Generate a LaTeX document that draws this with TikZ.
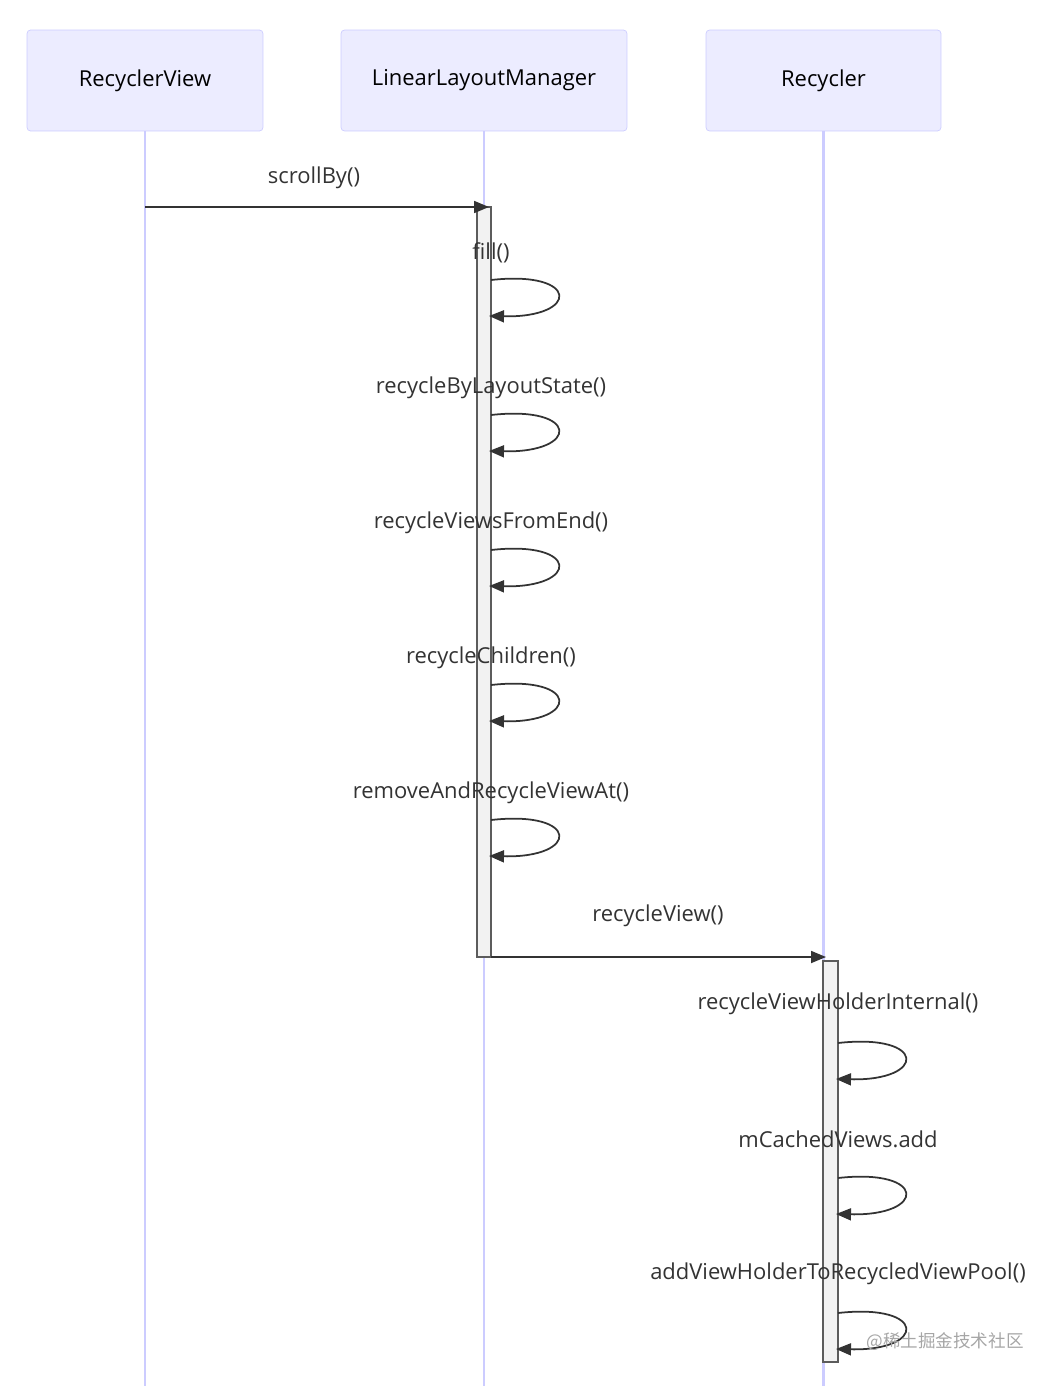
\documentclass[tikz,border=0pt]{standalone}
\usepackage{fontspec}
\setmainfont{Open Sans}
\newfontfamily\cjk{Noto Sans CJK SC}
\usetikzlibrary{positioning,arrows.meta}
\definecolor{actfill}{HTML}{ECECFF}
\definecolor{actdraw}{HTML}{CCCCFF}
\definecolor{msgline}{HTML}{333333}
\begin{document}
\begin{tikzpicture}[
    x=0.02cm, y=-0.02cm,
    actor/.style={draw=actdraw, fill=actfill, rounded corners=2pt, minimum height=2.02cm, font=\fontsize{12.5}{14}\selectfont},
    lifeline/.style={draw=actdraw, line width=1.2pt},
    activation/.style={draw=msgline!80, fill=black!5, line width=0.6pt},
    message/.style={-{Triangle[length=3mm,width=2.4mm]}, msgline, line width=1pt},
    label/.style={font=\fontsize{12.5}{14}\selectfont, text=msgline}
]
\useasboundingbox (0,0) rectangle (1058,1386);

% Actors
\node[actor, minimum width=4.72cm] (rv) at (145,80.5) {RecyclerView};
\node[actor, minimum width=5.72cm] (llm) at (484,80.5) {LinearLayoutManager};
\node[actor, minimum width=4.7cm] (rec) at (823.5,80.5) {Recycler};

% Lifelines
\draw[lifeline] (rv.south) -- (145,1386);
\draw[lifeline] (llm.south) -- (484,1386);
\draw[lifeline] (rec.south) -- (823.5,1386);

% Activations
\draw[activation] (477,207) rectangle (491,957);
\draw[activation] (823,961) rectangle (838,1362);

% scrollBy
\coordinate (sb0) at (145,207);
\coordinate (sb1) at (489,207);
\draw[message] (sb0) -- (sb1);
\node[label] (sblabel) at (314,178) {scrollBy()};

% self calls on LinearLayoutManager
\foreach \y/\name/\txt in {280/fill/fill(), 415/rbls/recycleByLayoutState(), 550/rvfe/recycleViewsFromEnd(),
    685/rc/recycleChildren(), 820/rarv/removeAndRecycleViewAt()} {
  \node[label] (\name label) at (491,\y-27) {\txt};
  \coordinate (\name0) at (491,\y);
  \coordinate (\name1) at (489,\y+36);
  \draw[message] (\name0) .. controls (580,\y-10) and (580,\y+38) .. (\name1);
}

% recycleView
\coordinate (rv0) at (491,957);
\coordinate (rv1) at (826,957);
\draw[message] (rv0) -- (rv1);
\node[label] (rvlabel) at (658,916) {recycleView()};

% self calls on Recycler
\foreach \y/\name/\txt in {1043/rvhi/recycleViewHolderInternal(), 1178/mcva/mCachedViews.add,
    1313/avhp/addViewHolderToRecycledViewPool()} {
  \node[label] (\name label) at (838,\y-39) {\txt};
  \coordinate (\name0) at (838,\y);
  \coordinate (\name1) at (836,\y+36);
  \draw[message] (\name0) .. controls (927,\y-10) and (927,\y+38) .. (\name1);
}

% watermark
\node[font=\cjk\fontsize{10}{12}\selectfont, text=black!35] (wm) at (945,1342) {@稀土掘金技术社区};
\end{tikzpicture}
\end{document}
